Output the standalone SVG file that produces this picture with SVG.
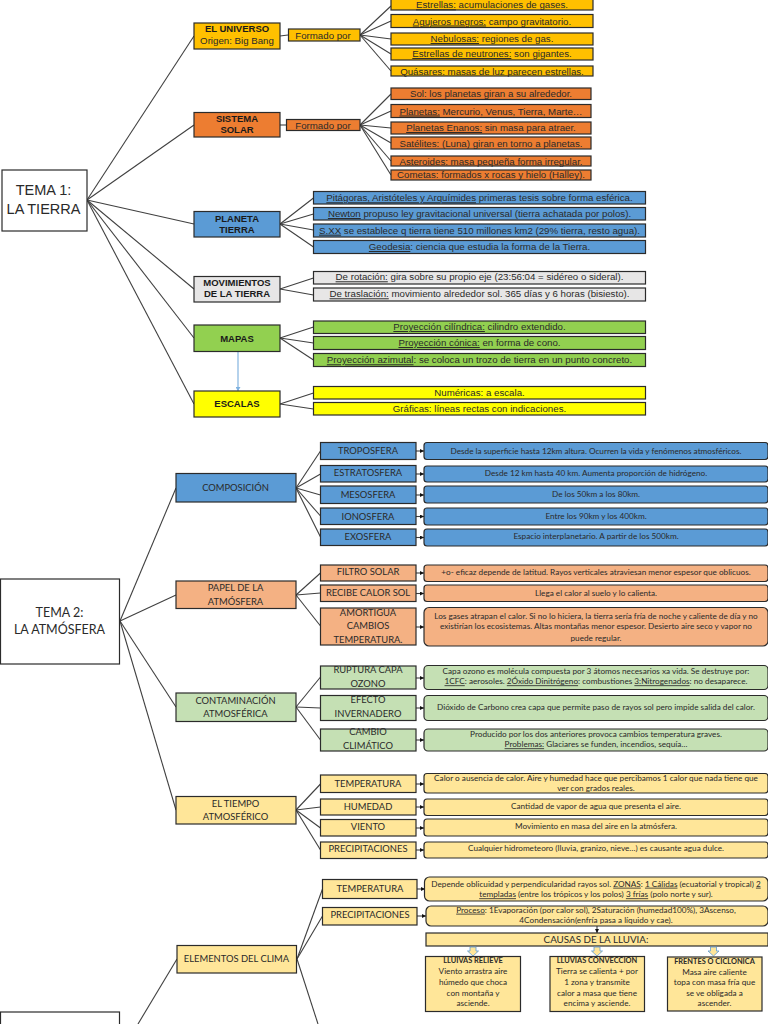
<svg xmlns="http://www.w3.org/2000/svg" width="768" height="1024" viewBox="0 0 768 1024">
<style>
rect{stroke:#2b2b2b;stroke-width:1.2}
text{text-anchor:middle;fill:#2a2a2a}
.a{font-family:"Liberation Sans",Arial,sans-serif}
.c{font-family:Lato,"Open Sans",sans-serif}
.s{font-size:9.7px}
.n{font-size:9.5px;font-weight:700;fill:#1a1a1a}
.m{font-size:9.4px}
.r{font-size:8.2px}
.u{text-decoration:underline}
.b{font-weight:700;font-size:7.4px}
.y{fill:#FFC000}.o{fill:#ED7D31}.bl{fill:#5B9BD5}.g{fill:#E7E6E6}.gr{fill:#92D050}.ye{fill:#FFFF00}
.pe{fill:#F4B183}.lg{fill:#C5E0B4}.ly{fill:#FFE699}.w{fill:#fff}
#connectors line{stroke:#404040;stroke-width:1.1;fill:none}
#connectors .ar{marker-end:url(#ah)}
#connectors .lb{stroke:#9DC3E6;stroke-width:1.5;marker-end:url(#ahb)}
.ho{fill:#FFE699;stroke:#5B9BD5;stroke-width:.8}
</style>
<defs>
<marker id="ah" markerWidth="5" markerHeight="5" refX="4" refY="2" orient="auto" markerUnits="userSpaceOnUse"><path d="M0 0L4 2L0 4Z" fill="#111"/></marker>
<marker id="ahb" markerWidth="5" markerHeight="5" refX="4" refY="2.5" orient="auto" markerUnits="userSpaceOnUse"><path d="M0 0L4 2.5L0 5Z" fill="#7FB2E0"/></marker>
</defs>
<rect width="768" height="1024" style="fill:#fff;stroke:none"/>
<g id="connectors">
<line x1="87" y1="200" x2="194" y2="36"/><line x1="87" y1="200" x2="194" y2="125"/><line x1="87" y1="200" x2="194" y2="224"/><line x1="87" y1="200" x2="194" y2="289"/><line x1="87" y1="200" x2="194" y2="338"/><line x1="87" y1="200" x2="194" y2="404"/>
<line x1="280" y1="36" x2="288" y2="35"/><line x1="280" y1="125" x2="287" y2="125"/>
<line x1="360" y1="35" x2="391" y2="6"/><line x1="360" y1="35" x2="391" y2="21"/><line x1="360" y1="35" x2="391" y2="39"/><line x1="360" y1="35" x2="391" y2="54"/><line x1="360" y1="35" x2="391" y2="71"/>
<line x1="360" y1="125" x2="391" y2="94"/><line x1="360" y1="125" x2="391" y2="111"/><line x1="360" y1="125" x2="391" y2="128"/><line x1="360" y1="125" x2="391" y2="143"/><line x1="360" y1="125" x2="391" y2="161"/><line x1="360" y1="125" x2="391" y2="175"/>
<line x1="280" y1="224" x2="313.500" y2="198"/><line x1="280" y1="224" x2="313.500" y2="214"/><line x1="280" y1="224" x2="313.500" y2="230"/><line x1="280" y1="224" x2="313.500" y2="247"/>
<line x1="280" y1="289" x2="313.500" y2="278"/><line x1="280" y1="289" x2="313.500" y2="295"/>
<line x1="280" y1="338" x2="313.500" y2="327"/><line x1="280" y1="338" x2="313.500" y2="343"/><line x1="280" y1="338" x2="313.500" y2="360"/>
<line x1="280" y1="404" x2="313.500" y2="393"/><line x1="280" y1="404" x2="313.500" y2="409"/>
<line class="lb" x1="238" y1="352" x2="238" y2="391"/>
<line x1="120" y1="621" x2="176" y2="488"/><line x1="120" y1="621" x2="176" y2="595"/><line x1="120" y1="621" x2="176" y2="707"/><line x1="120" y1="621" x2="176" y2="810"/>
<line x1="138" y1="1024" x2="177" y2="959"/>
<line x1="296" y1="488" x2="320.500" y2="451"/><line x1="296" y1="488" x2="320.500" y2="474"/><line x1="296" y1="488" x2="320.500" y2="495"/><line x1="296" y1="488" x2="320.500" y2="516"/><line x1="296" y1="488" x2="320.500" y2="537"/>
<line x1="296" y1="595" x2="320.500" y2="573"/><line x1="296" y1="595" x2="320.500" y2="593"/><line x1="296" y1="595" x2="320.500" y2="626"/>
<line x1="296" y1="707" x2="320.500" y2="677"/><line x1="296" y1="707" x2="320.500" y2="708"/><line x1="296" y1="707" x2="320.500" y2="740"/>
<line x1="296" y1="810" x2="320.500" y2="784"/><line x1="296" y1="810" x2="320.500" y2="807"/><line x1="296" y1="810" x2="320.500" y2="828"/><line x1="296" y1="810" x2="320.500" y2="850"/>
<line x1="297" y1="959" x2="322.500" y2="889"/><line x1="297" y1="959" x2="322.500" y2="916"/><line x1="297" y1="959" x2="318" y2="1024"/>
<line class="ar" x1="416" y1="451" x2="424" y2="451"/><line class="ar" x1="416" y1="474" x2="424" y2="474"/><line class="ar" x1="416" y1="495" x2="424" y2="495"/><line class="ar" x1="416" y1="516.500" x2="424" y2="516.500"/><line class="ar" x1="416" y1="537.500" x2="424" y2="537.500"/>
<line class="ar" x1="416" y1="573" x2="424" y2="573"/><line class="ar" x1="416" y1="593.500" x2="424" y2="593.500"/><line class="ar" x1="416" y1="627" x2="424" y2="627"/>
<line class="ar" x1="416" y1="678" x2="424" y2="678"/><line class="ar" x1="416" y1="708" x2="424" y2="708"/><line class="ar" x1="416" y1="740" x2="424" y2="740"/>
<line class="ar" x1="416" y1="784" x2="424" y2="784"/><line class="ar" x1="416" y1="807" x2="424" y2="807"/><line class="ar" x1="416" y1="828" x2="424" y2="828"/><line class="ar" x1="416" y1="850" x2="424" y2="850"/>
<line class="ar" x1="417" y1="889" x2="425" y2="889"/><line class="ar" x1="417" y1="916" x2="426" y2="916"/><line class="ar" x1="597" y1="926" x2="597" y2="933"/>
</g>

<g id="tema1"><rect class="w" x="2" y="170" width="85" height="61"/><text class="a" x="43.500" y="195" font-size="14.500">TEMA 1:</text><text class="a" x="43.500" y="214" font-size="14.500">LA TIERRA</text></g>

<g id="universo"><rect class="y" x="194" y="23" width="86" height="26"/><text class="a n" x="237" y="32">EL UNIVERSO</text><text class="a s" x="237" y="43.700">Origen: Big Bang</text></g>
<g id="formado1"><rect class="y" x="288.500" y="29" width="71.500" height="12"/><text class="a s" x="323" y="38.500">Formado por</text></g>
<g id="u1"><rect class="y" x="391" y="-2" width="202" height="12"/><text class="a s" x="492" y="8.300"><tspan class="u">Estrellas:</tspan> acumulaciones de gases.</text></g>
<g id="u2"><rect class="y" x="391" y="14.500" width="202" height="13"/><text class="a s" x="492" y="24.500"><tspan class="u">Agujeros negros:</tspan> campo gravitatorio.</text></g>
<g id="u3"><rect class="y" x="391" y="33" width="202" height="12"/><text class="a s" x="492" y="42"><tspan class="u">Nebulosas:</tspan> regiones de gas.</text></g>
<g id="u4"><rect class="y" x="391" y="48" width="202" height="12"/><text class="a s" x="492" y="57"><tspan class="u">Estrellas de neutrones:</tspan> son gigantes.</text></g>
<g id="u5"><rect class="y" x="391" y="66" width="202" height="10"/><text class="a s" x="492" y="75">Quásares: masas de luz parecen estrellas.</text></g>

<g id="solar"><rect class="o" x="194" y="112.500" width="86" height="24.500"/><text class="a n" x="237" y="122.300">SISTEMA</text><text class="a n" x="237" y="133.300">SOLAR</text></g>
<g id="formado2"><rect class="o" x="286.500" y="119.500" width="73.500" height="11"/><text class="a s" x="323" y="128.700">Formado por</text></g>
<g id="s1"><rect class="o" x="391" y="88" width="200" height="11.500"/><text class="a s" x="491" y="97">Sol: los planetas giran a su alrededor.</text></g>
<g id="s2"><rect class="o" x="391" y="104.500" width="200" height="13"/><text class="a s" x="491" y="114.500"><tspan class="u">Planetas:</tspan> Mercurio, Venus, Tierra, Marte…</text></g>
<g id="s3"><rect class="o" x="391" y="122" width="200" height="12"/><text class="a s" x="491" y="131"><tspan class="u">Planetas Enanos:</tspan> sin masa para atraer.</text></g>
<g id="s4"><rect class="o" x="391" y="137" width="200" height="12"/><text class="a s" x="491" y="147">Satélites: (Luna) giran en torno a planetas.</text></g>
<g id="s5"><rect class="o" x="391" y="156" width="200" height="10"/><text class="a s" x="491" y="164.500">Asteroides: masa pequeña forma irregular.</text></g>
<g id="s6"><rect class="o" x="391" y="170" width="200" height="10"/><text class="a s" x="491" y="178">Cometas: formados x rocas y hielo (Halley).</text></g>

<g id="planeta"><rect class="bl" x="194" y="211.500" width="86" height="25.500"/><text class="a n" x="237" y="221.700">PLANETA</text><text class="a n" x="237" y="232.700">TIERRA</text></g>
<g id="p1"><rect class="bl" x="313.500" y="191.500" width="332" height="12.500"/><text class="a s" x="479.500" y="201.300"><tspan class="u">Pitágoras, Aristóteles y Arquímides</tspan> primeras tesis sobre forma esférica.</text></g>
<g id="p2"><rect class="bl" x="313.500" y="207.500" width="332" height="12.500"/><text class="a s" x="479.500" y="217"><tspan class="u">Newton</tspan> propuso ley gravitacional universal (tierra achatada por polos).</text></g>
<g id="p3"><rect class="bl" x="313.500" y="224" width="332" height="13"/><text class="a s" x="479.500" y="233.700"><tspan class="u">S.XX</tspan> se establece q tierra tiene 510 millones km2 (29% tierra, resto agua).</text></g>
<g id="p4"><rect class="bl" x="313.500" y="240.500" width="332" height="13"/><text class="a s" x="479.500" y="250"><tspan class="u">Geodesia</tspan>: ciencia que estudia la forma de la Tierra.</text></g>

<g id="movimientos"><rect class="g" x="194" y="276.500" width="86" height="25.500"/><text class="a n" x="237" y="286.300">MOVIMIENTOS</text><text class="a n" x="237" y="297.300">DE LA TIERRA</text></g>
<g id="m1"><rect class="g" x="313.500" y="271.500" width="332" height="12.500"/><text class="a s" x="479.500" y="280.300"><tspan class="u">De rotación:</tspan> gira sobre su propio eje (23:56:04 = sidéreo o sideral).</text></g>
<g id="m2"><rect class="g" x="313.500" y="288" width="332" height="13"/><text class="a s" x="479.500" y="297.300"><tspan class="u">De traslación:</tspan> movimiento alrededor sol. 365 días y 6 horas (bisiesto).</text></g>

<g id="mapas"><rect class="gr" x="194" y="325" width="86" height="26.500"/><text class="a n" x="237" y="341.700">MAPAS</text></g>
<g id="ma1"><rect class="gr" x="313.500" y="321" width="332" height="12.500"/><text class="a s" x="479.500" y="330"><tspan class="u">Proyección cilíndrica:</tspan> cilindro extendido.</text></g>
<g id="ma2"><rect class="gr" x="313.500" y="336.500" width="332" height="13"/><text class="a s" x="479.500" y="346"><tspan class="u">Proyección cónica:</tspan> en forma de cono.</text></g>
<g id="ma3"><rect class="gr" x="313.500" y="353.500" width="332" height="13"/><text class="a s" x="479.500" y="363.300"><tspan class="u">Proyección azimutal</tspan>: se coloca un trozo de tierra en un punto concreto.</text></g>

<g id="escalas"><rect class="ye" x="194" y="391" width="86" height="26"/><text class="a n" x="237" y="406.700">ESCALAS</text></g>
<g id="e1"><rect class="ye" x="313.500" y="386.500" width="332" height="12.500"/><text class="a s" x="479.500" y="395.700">Numéricas: a escala.</text></g>
<g id="e2"><rect class="ye" x="313.500" y="402.500" width="332" height="12.500"/><text class="a s" x="479.500" y="412">Gráficas: líneas rectas con indicaciones.</text></g>

<g id="tema2"><rect class="w" x="0.500" y="579" width="119" height="85"/><text class="c" x="59.500" y="617" font-size="12.500">TEMA 2:</text><text class="c" x="59.500" y="634.400" font-size="12.500">LA ATMÓSFERA</text></g>

<g id="composicion"><rect class="bl" x="176" y="473.500" width="120" height="28.500"/><text class="c m" x="235.500" y="490.600">COMPOSICIÓN</text></g>
<g id="c1"><rect class="bl" x="320.500" y="442.500" width="95.500" height="17"/><text class="c m" x="368" y="454">TROPOSFERA</text></g>
<g id="c1r"><rect class="bl" x="424" y="442.500" width="344" height="17" rx="3"/><text class="c r" x="596" y="454">Desde la superficie hasta 12km altura. Ocurren la vida y fenómenos atmosféricos.</text></g>
<g id="c2"><rect class="bl" x="320.500" y="465.500" width="95.500" height="16.500"/><text class="c m" x="368" y="476.300">ESTRATOSFERA</text></g>
<g id="c2r"><rect class="bl" x="424" y="466" width="344" height="16" rx="3"/><text class="c r" x="596" y="476">Desde 12 km hasta 40 km. Aumenta proporción de hidrógeno.</text></g>
<g id="c3"><rect class="bl" x="320.500" y="486" width="95.500" height="17.500"/><text class="c m" x="368" y="497.700">MESOSFERA</text></g>
<g id="c3r"><rect class="bl" x="424" y="486" width="344" height="17" rx="3"/><text class="c r" x="596" y="496.700">De los 50km a los 80km.</text></g>
<g id="c4"><rect class="bl" x="320.500" y="508" width="95.500" height="16.500"/><text class="c m" x="368" y="519.700">IONOSFERA</text></g>
<g id="c4r"><rect class="bl" x="424" y="508" width="344" height="17" rx="3"/><text class="c r" x="596" y="518.700">Entre los 90km y los 400km.</text></g>
<g id="c5"><rect class="bl" x="320.500" y="529" width="95.500" height="16.500"/><text class="c m" x="368" y="540">EXOSFERA</text></g>
<g id="c5r"><rect class="bl" x="424" y="529" width="344" height="17" rx="3"/><text class="c r" x="596" y="539">Espacio interplanetario. A partir de los 500km.</text></g>

<g id="papel"><rect class="pe" x="176" y="581" width="120" height="27.500"/><text class="c m" x="235.500" y="590.800">PAPEL DE LA</text><text class="c m" x="235.500" y="605">ATMÓSFERA</text></g>
<g id="pa1"><rect class="pe" x="320.500" y="565" width="95.500" height="16"/><text class="c m" x="368" y="575.300">FILTRO SOLAR</text></g>
<g id="pa1r"><rect class="pe" x="424" y="565" width="344" height="16.500" rx="3"/><text class="c r" x="596" y="575.300">+o- eficaz depende de latitud. Rayos verticales atraviesan menor espesor que oblicuos.</text></g>
<g id="pa2"><rect class="pe" x="320.500" y="585" width="95.500" height="16.500"/><text class="c m" x="368" y="596">RECIBE CALOR SOL</text></g>
<g id="pa2r"><rect class="pe" x="424" y="585" width="344" height="16.500" rx="3"/><text class="c r" x="596" y="595.700">Llega el calor al suelo y lo calienta.</text></g>
<g id="pa3"><rect class="pe" x="320.500" y="608" width="95.500" height="37"/><text class="c m" x="368" y="615.700">AMORTIGUA</text><text class="c m" x="368" y="629">CAMBIOS</text><text class="c m" x="368" y="643">TEMPERATURA.</text></g>
<g id="pa3r"><rect class="pe" x="424" y="607.500" width="344" height="38.500" rx="5"/><text class="c r" x="596" y="619">Los gases  atrapan el calor. Si no lo hiciera, la tierra sería fría de noche y caliente de día y no</text><text class="c r" x="596" y="629">existirían los ecosistemas. Altas montañas menor espesor.  Desierto aire seco y vapor no</text><text class="c r" x="596" y="641">puede regular.</text></g>

<g id="contaminacion"><rect class="lg" x="176" y="693" width="120" height="28.500"/><text class="c m" x="235.500" y="703.700">CONTAMINACIÓN</text><text class="c m" x="235.500" y="717">ATMOSFÉRICA</text></g>
<g id="co1"><rect class="lg" x="320.500" y="666" width="95.500" height="23"/><text class="c m" x="368" y="673.300">RUPTURA CAPA</text><text class="c m" x="368" y="686.700">OZONO</text></g>
<g id="co1r"><rect class="lg" x="424" y="665.500" width="344" height="24" rx="4"/><text class="c r" x="596" y="674">Capa ozono es molécula compuesta por 3 átomos necesarios xa vida. Se destruye por:</text><text class="c r" x="596" y="684.300"><tspan class="u">1CFC</tspan>: aerosoles.  <tspan class="u">2Óxido Dinitrógeno</tspan>: combustiones <tspan class="u">3:Nitrogenados</tspan>: no desaparece.</text></g>
<g id="co2"><rect class="lg" x="320.500" y="695.500" width="95.500" height="25"/><text class="c m" x="368" y="703.300">EFECTO</text><text class="c m" x="368" y="717.300">INVERNADERO</text></g>
<g id="co2r"><rect class="lg" x="424" y="695.500" width="344" height="25" rx="4"/><text class="c r" x="596" y="709.700">Dióxido de Carbono crea capa que permite paso de rayos sol pero impide salida del calor.</text></g>
<g id="co3"><rect class="lg" x="320.500" y="729" width="95.500" height="22"/><text class="c m" x="368" y="735">CAMBIO</text><text class="c m" x="368" y="749.300">CLIMÁTICO</text></g>
<g id="co3r"><rect class="lg" x="424" y="729" width="344" height="22" rx="4"/><text class="c r" x="596" y="737.300">Producido por los dos anteriores provoca cambios temperatura graves.</text><text class="c r" x="596" y="747.300"><tspan class="u">Problemas:</tspan> Glaciares se funden, incendios, sequía…</text></g>

<g id="tiempo"><rect class="ly" x="176" y="796.500" width="120" height="27.500"/><text class="c m" x="235.500" y="806.500">EL TIEMPO</text><text class="c m" x="235.500" y="819.500">ATMOSFÉRICO</text></g>
<g id="t1"><rect class="ly" x="320.500" y="775" width="95.500" height="17.500"/><text class="c m" x="368" y="786.700">TEMPERATURA</text></g>
<g id="t1r"><rect class="ly" x="424" y="773.500" width="344" height="19.500" rx="3"/><text class="c r" x="596" y="780.700">Calor o ausencia de calor. Aire y humedad hace que percibamos 1 calor que nada tiene que</text><text class="c r" x="596" y="791">ver con grados reales.</text></g>
<g id="t2"><rect class="ly" x="320.500" y="799" width="95.500" height="16"/><text class="c m" x="368" y="810">HUMEDAD</text></g>
<g id="t2r"><rect class="ly" x="424" y="799" width="344" height="16.500" rx="3"/><text class="c r" x="596" y="809">Cantidad de vapor de agua que presenta el aire.</text></g>
<g id="t3"><rect class="ly" x="320.500" y="819.500" width="95.500" height="16.500"/><text class="c m" x="368" y="830.300">VIENTO</text></g>
<g id="t3r"><rect class="ly" x="424" y="819" width="344" height="17" rx="3"/><text class="c r" x="596" y="829.300">Movimiento en masa del aire en la atmósfera.</text></g>
<g id="t4"><rect class="ly" x="320.500" y="842" width="95.500" height="16.500"/><text class="c m" x="368" y="852">PRECIPITACIONES</text></g>
<g id="t4r"><rect class="ly" x="424" y="842" width="344" height="16" rx="3"/><text class="c r" x="596" y="851.300">Cualquier hidrometeoro (lluvia, granizo, nieve…) es causante agua dulce.</text></g>

<g id="tema3"><rect class="w" x="0.500" y="1012" width="119" height="30"/></g>
<g id="elementos"><rect class="ly" x="177" y="945.500" width="119.500" height="27.500"/><text class="c m" x="236.500" y="962">ELEMENTOS DEL CLIMA</text></g>
<g id="el1"><rect class="ly" x="322.500" y="879.500" width="94.500" height="19"/><text class="c m" x="370" y="892">TEMPERATURA</text></g>
<g id="el1r"><rect class="ly" x="424.500" y="877" width="343.500" height="24" rx="5"/><text class="c r" x="596" y="886.700">Depende oblicuidad y perpendicularidad rayos sol. <tspan class="u">ZONAS</tspan>: <tspan class="u">1 Cálidas</tspan> (ecuatorial y tropical) <tspan class="u">2</tspan></text><text class="c r" x="596" y="897.300"><tspan class="u">templadas</tspan> (entre los trópicos y los polos) <tspan class="u">3 frías</tspan> (polo norte y sur).</text></g>
<g id="el2"><rect class="ly" x="322.500" y="907.500" width="94.500" height="17.500"/><text class="c m" x="370" y="918.300">PRECIPITACIONES</text></g>
<g id="el2r"><rect class="ly" x="426" y="906" width="342" height="20" rx="5"/><text class="c r" x="596" y="912.700"><tspan class="u">Proceso</tspan>: 1Evaporación (por calor sol), 2Saturación (humedad100%), 3Ascenso,</text><text class="c r" x="596" y="922.700">4Condensación(enfría pasa a líquido y cae).</text></g>
<g id="causas"><rect class="ly" x="426" y="933" width="342" height="13"/><text class="c" font-size="9.800" x="596" y="942.700">CAUSAS DE LA LLUVIA:</text></g>
<g id="flechas"><path class="ho" d="M470 947H476V951H478.500L473 956L467.500 951H470Z"/><path class="ho" d="M594 947H600V951H602.500L597 956L591.500 951H594Z"/><path class="ho" d="M710.500 947H716.500V951H719L713.500 956L708 951H710.500Z"/></g>
<g id="relieve"><rect class="ly" x="425.500" y="956.500" width="95" height="55"/><text class="c r b" x="473" y="963.300">LLUIVAS RELIEVE</text><text class="c r" x="473" y="973.700">Viento arrastra aire</text><text class="c r" x="473" y="985">húmedo que choca</text><text class="c r" x="473" y="996">con montaña y</text><text class="c r" x="473" y="1006">asciende.</text></g>
<g id="conveccion"><rect class="ly" x="550" y="956.500" width="94.500" height="55"/><text class="c r b" x="597" y="963.300">LLUVIAS CONVECCIÓN</text><text class="c r" x="597" y="973.700">Tierra se calienta + por</text><text class="c r" x="597" y="985">1 zona y transmite</text><text class="c r" x="597" y="996">calor a masa que tiene</text><text class="c r" x="597" y="1006">encima y asciende.</text></g>
<g id="frentes"><rect class="ly" x="667.500" y="957" width="94.500" height="54"/><text class="c r b" x="714.500" y="963.700">FRENTES  O CICLONICA</text><text class="c r" x="714.500" y="974.700">Masa aire caliente</text><text class="c r" x="714.500" y="985.300">topa con masa fría que</text><text class="c r" x="714.500" y="996">se ve obligada a</text><text class="c r" x="714.500" y="1005.700">ascender.</text></g>
</svg>
